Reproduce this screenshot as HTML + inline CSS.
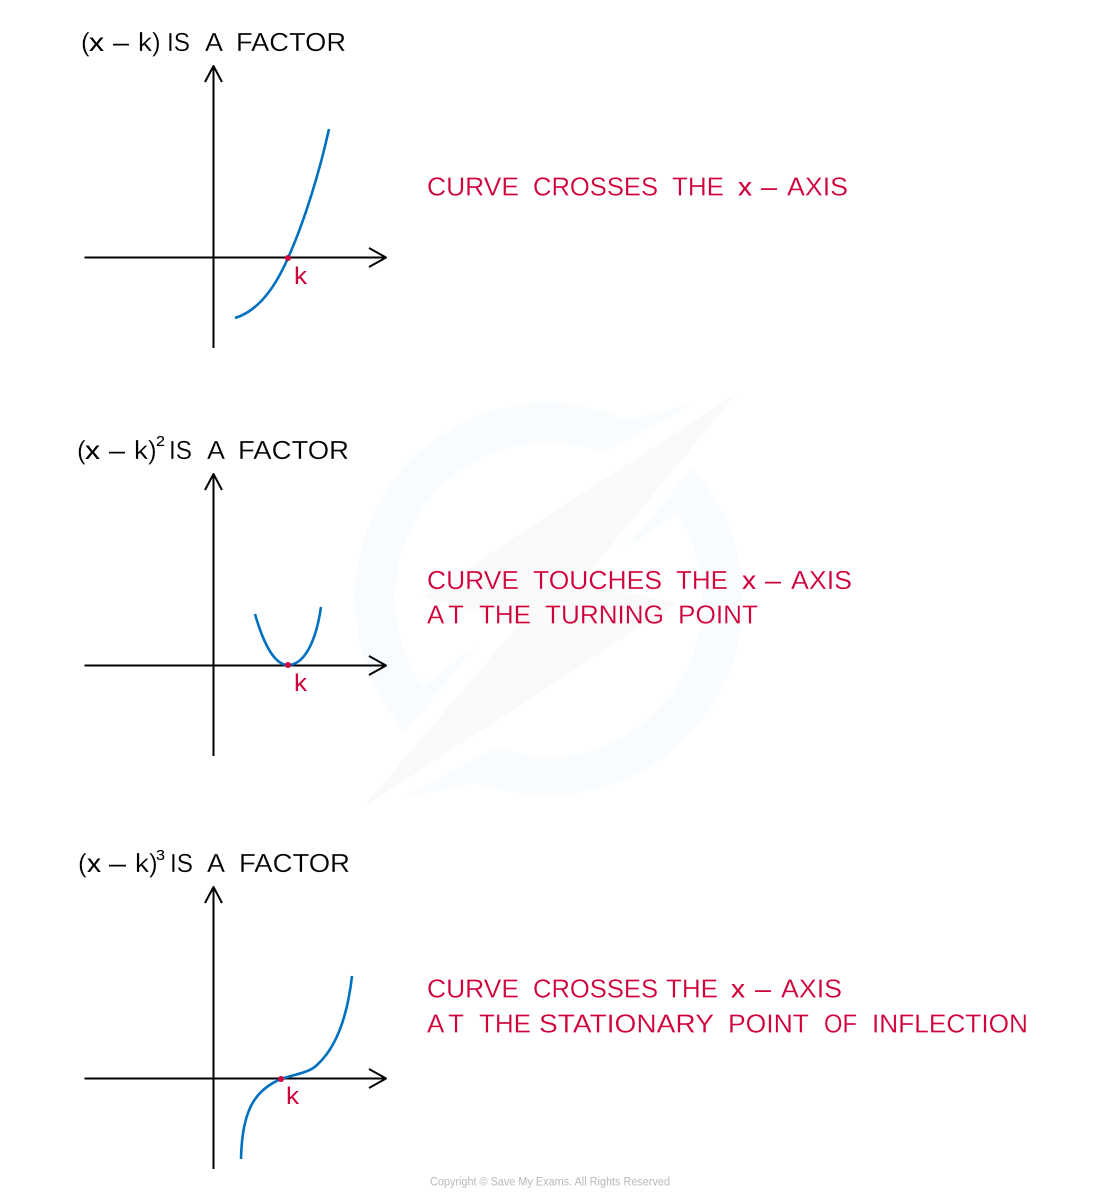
<!DOCTYPE html>
<html><head><meta charset="utf-8">
<style>
html,body{margin:0;padding:0;background:#fff}
svg{display:block}
text{font-family:"Liberation Sans",sans-serif}
.t{font-size:26px;fill:#000;stroke:#fff;stroke-width:.2px}
.r{font-size:26px;fill:#d0003a;stroke:#fff;stroke-width:.2px}
.b text.h{stroke:#000;stroke-width:.1px}
.r text.h{stroke:#d0003a;stroke-width:.1px}
.k{font-size:24px;fill:#d0003a}
.a{fill:none;stroke:#000;stroke-width:2;stroke-linecap:butt;stroke-linejoin:round}
.c{fill:none;stroke:#0070c0;stroke-width:2.6;stroke-linecap:butt}
</style></head><body>
<svg width="1100" height="1200" viewBox="0 0 1100 1200" xmlns="http://www.w3.org/2000/svg">
<!-- watermark -->
<path fill="#f9fcfe" d="M697 402C670 410 650 416 627 420C600 409 575 403 547 403C440 403 355 490 355 600C355 650 375 695 405 732L477 645L422 687C405 662 395 632 395 600C395 512 462 443 547 443C568 443 587 446 605 452Z"/>
<path fill="#f9fcfe" d="M693 468C725 505 743 550 743 600C743 708 655 795 547 795C520 795 497 790 473 782C450 788 425 794 403 798L497 747C513 753 530 757 547 757C632 757 703 687 703 600C703 567 693 537 677 513L623 550Z"/>
<path fill="#fafafa" d="M737 393L423 597L520 623L362 808L677 603L580 583Z"/>

<!-- graph 1 -->
<path class="a" d="M213.5 348V66M205 82L213.5 66L222 82M84.500 257.5H386M369 248L386 257.5L369 267"/>
<path class="c" d="M235 318C258 311 275 288 288 258C305 220 320 170 329 129"/>
<circle cx="288" cy="258" r="3" fill="#d0003a"/>
<text class="k" x="294" y="284" textLength="13" lengthAdjust="spacingAndGlyphs">k</text>

<!-- graph 2 -->
<path class="a" d="M213.5 756V474M205 490L213.5 474L222 490M84.500 665.5H386M369 656L386 665.5L369 675"/>
<path class="c" d="M255 614C263 642 274 665 288 665C304 665 316 642 321 607"/>
<circle cx="288" cy="665" r="3" fill="#d0003a"/>
<text class="k" x="294" y="691" textLength="13" lengthAdjust="spacingAndGlyphs">k</text>

<!-- graph 3 -->
<path class="a" d="M213.5 1169V887M205 903L213.5 887L222 903M84.500 1078.5H386M369 1069L386 1078.5L369 1088"/>
<path class="c" d="M241 1159C242 1110 255 1090 281 1079C295 1074 310 1073 318 1064C335 1048 347 1020 352 976"/>
<circle cx="281" cy="1079" r="3" fill="#d0003a"/>
<text class="k" x="286" y="1104" textLength="13" lengthAdjust="spacingAndGlyphs">k</text>

<!-- titles -->
<g class="t b">
<text x="81" y="51">(</text><text class="h" x="89" y="51" textLength="15" lengthAdjust="spacingAndGlyphs">x</text><text class="h" x="113" y="51" textLength="16" lengthAdjust="spacingAndGlyphs">–</text><text x="138" y="51" textLength="14" lengthAdjust="spacingAndGlyphs">k</text><text x="152" y="51">)</text>
<text x="167" y="51" textLength="23" lengthAdjust="spacingAndGlyphs">IS</text>
<text x="205" y="51" textLength="18" lengthAdjust="spacingAndGlyphs">A</text>
<text x="236" y="51" textLength="110" lengthAdjust="spacingAndGlyphs">FACTOR</text>

<text x="77" y="459">(</text><text class="h" x="85" y="459" textLength="15" lengthAdjust="spacingAndGlyphs">x</text><text class="h" x="109" y="459" textLength="16" lengthAdjust="spacingAndGlyphs">–</text><text x="134" y="459" textLength="14" lengthAdjust="spacingAndGlyphs">k</text><text x="148" y="459">)</text>
<text class="h" x="156" y="446" style="font-size:15px" textLength="9" lengthAdjust="spacingAndGlyphs">2</text>
<text x="169" y="459" textLength="23" lengthAdjust="spacingAndGlyphs">IS</text>
<text x="207" y="459" textLength="18" lengthAdjust="spacingAndGlyphs">A</text>
<text x="238" y="459" textLength="111" lengthAdjust="spacingAndGlyphs">FACTOR</text>

<text x="78" y="872">(</text><text class="h" x="87" y="872" textLength="14" lengthAdjust="spacingAndGlyphs">x</text><text class="h" x="109" y="872" textLength="17" lengthAdjust="spacingAndGlyphs">–</text><text x="135" y="872" textLength="14" lengthAdjust="spacingAndGlyphs">k</text><text x="149" y="872">)</text>
<text class="h" x="156" y="860" style="font-size:15px" textLength="9" lengthAdjust="spacingAndGlyphs">3</text>
<text x="170" y="872" textLength="23" lengthAdjust="spacingAndGlyphs">IS</text>
<text x="207" y="872" textLength="18" lengthAdjust="spacingAndGlyphs">A</text>
<text x="239" y="872" textLength="111" lengthAdjust="spacingAndGlyphs">FACTOR</text>
</g>

<!-- red text -->
<g class="r">
<text x="427" y="195.500" textLength="92" lengthAdjust="spacingAndGlyphs">CURVE</text>
<text x="533" y="195.500" textLength="125" lengthAdjust="spacingAndGlyphs">CROSSES</text>
<text x="672" y="195.500" textLength="52" lengthAdjust="spacingAndGlyphs">THE</text>
<text class="h" x="738" y="195.500" textLength="14" lengthAdjust="spacingAndGlyphs">x</text>
<text class="h" x="761" y="195.500" textLength="16" lengthAdjust="spacingAndGlyphs">–</text>
<text x="787" y="195.500" textLength="61" lengthAdjust="spacingAndGlyphs">AXIS</text>

<text x="427" y="589" textLength="92" lengthAdjust="spacingAndGlyphs">CURVE</text>
<text x="533" y="589" textLength="129" lengthAdjust="spacingAndGlyphs">TOUCHES</text>
<text x="676" y="589" textLength="52" lengthAdjust="spacingAndGlyphs">THE</text>
<text class="h" x="742" y="589" textLength="14" lengthAdjust="spacingAndGlyphs">x</text>
<text class="h" x="765" y="589" textLength="16" lengthAdjust="spacingAndGlyphs">–</text>
<text x="791" y="589" textLength="61" lengthAdjust="spacingAndGlyphs">AXIS</text>

<text x="427" y="623.500" textLength="37" lengthAdjust="spacing">AT</text>
<text x="479" y="623.500" textLength="52" lengthAdjust="spacingAndGlyphs">THE</text>
<text x="545" y="623.500" textLength="119" lengthAdjust="spacingAndGlyphs">TURNING</text>
<text x="678" y="623.500" textLength="80" lengthAdjust="spacingAndGlyphs">POINT</text>

<text x="427" y="997.500" textLength="92" lengthAdjust="spacingAndGlyphs">CURVE</text>
<text x="533" y="997.500" textLength="125" lengthAdjust="spacingAndGlyphs">CROSSES</text>
<text x="666" y="997.500" textLength="52" lengthAdjust="spacingAndGlyphs">THE</text>
<text class="h" x="731" y="997.500" textLength="14" lengthAdjust="spacingAndGlyphs">x</text>
<text class="h" x="755" y="997.500" textLength="16" lengthAdjust="spacingAndGlyphs">–</text>
<text x="781" y="997.500" textLength="61" lengthAdjust="spacingAndGlyphs">AXIS</text>

<text x="427" y="1032.500" textLength="37" lengthAdjust="spacing">AT</text>
<text x="479" y="1032.500" textLength="52" lengthAdjust="spacingAndGlyphs">THE</text>
<text x="539" y="1032.500" textLength="175" lengthAdjust="spacingAndGlyphs">STATIONARY</text>
<text x="728" y="1032.500" textLength="81" lengthAdjust="spacingAndGlyphs">POINT</text>
<text x="824" y="1032.500" textLength="33" lengthAdjust="spacingAndGlyphs">OF</text>
<text x="872" y="1032.500" textLength="156" lengthAdjust="spacingAndGlyphs">INFLECTION</text>
</g>

<text x="550" y="1185.500" text-anchor="middle" style="font-size:11.5px" fill="#b9b9b9" textLength="240" lengthAdjust="spacingAndGlyphs">Copyright © Save My Exams. All Rights Reserved</text>
</svg>
</body></html>
